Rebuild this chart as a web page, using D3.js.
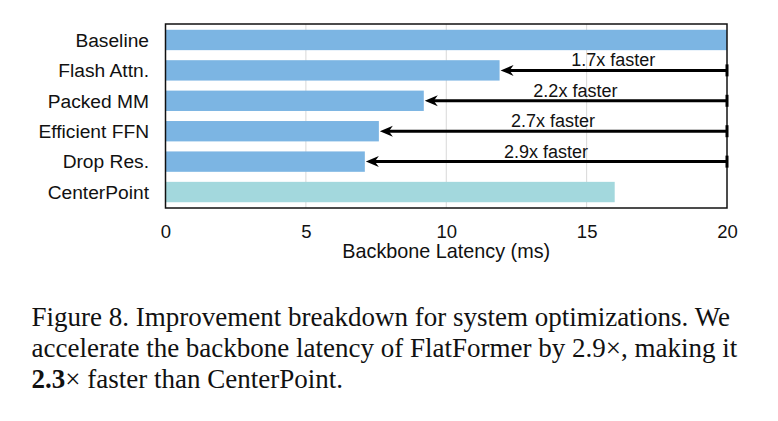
<!DOCTYPE html>
<html>
<head>
<meta charset="utf-8">
<script src="https://cdn.jsdelivr.net/npm/d3@7"></script>
<style>
  body { margin: 0; background: #fff; }
  svg { display: block; }
</style>
</head>
<body>
<svg id="chart" width="778" height="421"></svg>
<script>
const categories = ["Baseline", "Flash Attn.", "Packed MM", "Efficient FFN", "Drop Res.", "CenterPoint"];
const latency = [20, 11.9, 9.2, 7.6, 7.1, 16.0];
const speedupLabels = [null, "1.7x faster", "2.2x faster", "2.7x faster", "2.9x faster", null];
const xTicks = [0, 5, 10, 15, 20];
const captionLines = [
  [{t: "Figure 8. Improvement breakdown for system optimizations. We"}],
  [{t: "accelerate the backbone latency of FlatFormer by 2.9\u00d7, making it"}],
  [{t: "2.3", b: true}, {t: "\u00d7 faster than CenterPoint."}]
];

const svg = d3.select("#chart");
const margin = {left: 165.5, right: 51, top: 24, bottom: 213};
const W = 778, H = 421;

const x = d3.scaleLinear().domain([0, 20]).range([margin.left, W - margin.right]);
const y = d3.scaleBand().domain(categories).range([margin.top, H - margin.bottom])
  .paddingInner(0.33).paddingOuter(0.19);

const font = "Helvetica, 'Liberation Sans', Arial, sans-serif";

// grid
svg.append("g").selectAll("line").data(xTicks.slice(1, -1)).join("line")
  .attr("x1", d => x(d)).attr("x2", d => x(d))
  .attr("y1", margin.top).attr("y2", H - margin.bottom)
  .attr("stroke", "#d8d8d8").attr("stroke-width", 1);

// bars
svg.append("g").selectAll("rect").data(categories).join("rect")
  .attr("x", x(0))
  .attr("y", d => y(d))
  .attr("width", (d, i) => x(latency[i]) - x(0))
  .attr("height", y.bandwidth())
  .attr("fill", d => d === "CenterPoint" ? "#a3d8dd" : "#7cb5e3");

// frame
svg.append("rect")
  .attr("x", margin.left).attr("y", margin.top)
  .attr("width", x(20) - x(0)).attr("height", H - margin.bottom - margin.top)
  .attr("fill", "none").attr("stroke", "#111").attr("stroke-width", 1.5);

// category labels
svg.append("g").selectAll("text").data(categories).join("text")
  .attr("x", 149)
  .attr("y", d => y(d) + y.bandwidth() / 2)
  .attr("dy", "0.35em")
  .attr("text-anchor", "end")
  .attr("font-family", font).attr("font-size", 19.2).attr("fill", "#111")
  .text(d => d);

// x axis
const xAxis = d3.axisBottom(x).tickValues(xTicks).tickSize(0).tickPadding(0);
const ax = svg.append("g").attr("transform", `translate(0,${H - margin.bottom})`).call(xAxis);
ax.select(".domain").remove();
ax.selectAll("text").attr("dy", null).attr("y", 30)
  .attr("font-family", font).attr("font-size", 18.5).attr("fill", "#111");

svg.append("text")
  .attr("x", x(10)).attr("y", 258)
  .attr("text-anchor", "middle")
  .attr("font-family", font).attr("font-size", 19.8).attr("fill", "#111")
  .text("Backbone Latency (ms)");

// arrows
const arrowData = categories.map((c, i) => ({c, v: latency[i], label: speedupLabels[i]}))
  .filter(d => d.label);

const ag = svg.append("g");
arrowData.forEach(d => {
  const yc = y(d.c) + y.bandwidth() / 2;
  const x0 = x(d.v) + 1;
  ag.append("line")
    .attr("x1", x0 + 8).attr("x2", x(20))
    .attr("y1", yc).attr("y2", yc)
    .attr("stroke", "#000").attr("stroke-width", 3);
  ag.append("path")
    .attr("d", `M${x0},${yc} L${x0 + 13},${yc - 5.5} L${x0 + 9},${yc} L${x0 + 13},${yc + 5.5} Z`)
    .attr("fill", "#000");
  ag.append("line")
    .attr("x1", x(20)).attr("x2", x(20))
    .attr("y1", yc - 6).attr("y2", yc + 6)
    .attr("stroke", "#000").attr("stroke-width", 3);
  ag.append("text")
    .attr("x", (x(d.v) + x(20)) / 2).attr("y", yc - 4)
    .attr("text-anchor", "middle")
    .attr("font-family", font).attr("font-size", 18).attr("fill", "#111")
    .text(d.label);
});

// caption
const cap = svg.append("g").attr("font-family", "'Liberation Serif', 'Times New Roman', serif")
  .attr("font-size", 27).attr("fill", "#111");
captionLines.forEach((line, i) => {
  const t = cap.append("text").attr("x", 31.5).attr("y", 326 + i * 31);
  line.forEach(seg => t.append("tspan").attr("font-weight", seg.b ? "bold" : null).text(seg.t));
});
</script>
</body>
</html>
